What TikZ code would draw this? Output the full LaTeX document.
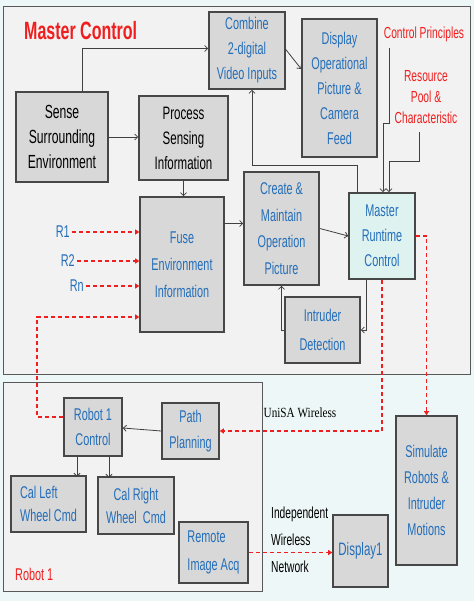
\documentclass[tikz,border=0pt]{standalone}
\usepackage{fontspec}
\setmainfont{Liberation Sans}[FakeStretch=0.64]
\newfontfamily\uniserif{Liberation Serif}[FakeStretch=0.8]
\usetikzlibrary{arrows.meta,calc}
\definecolor{bgcyan}{RGB}{238,247,247}
\definecolor{framefill}{RGB}{242,242,242}
\definecolor{boxgray}{RGB}{216,216,216}
\definecolor{runcyan}{RGB}{222,242,240}
\definecolor{myblue}{RGB}{36,110,185}
\definecolor{myred}{RGB}{240,30,30}
\tikzset{
  frame/.style={draw=black!65, line width=1pt, fill=framefill},
  box/.style={draw=black!72, line width=1.6pt, fill=boxgray, inner sep=0pt, align=center,
    text=myblue, font=\fontsize{17}{25}\selectfont},
  blackbox/.style={box, text=black, font=\fontsize{19}{25}\selectfont},
  sz/.style 2 args={minimum width=#1pt, minimum height=#2pt},
  conn/.style={draw=black!75, line width=0.8pt, -{Straight Barb[length=3pt,width=6pt]}},
  rdash/.style={draw=myred, line width=1.4pt, dash pattern=on 4pt off 3pt,
    -{Triangle[length=4pt,width=5pt]}},
  redlabel/.style={text=myred, align=center, inner sep=0pt, font=\fontsize{16}{21}\selectfont},
  bluelabel/.style={text=myblue, inner sep=0pt, font=\fontsize{17}{20}\selectfont},
}
\begin{document}
\begin{tikzpicture}[x=1pt,y=-1pt]
\useasboundingbox (0,0) rectangle (474,601);
\fill[bgcyan] (0,0) rectangle (474,601);
% frames
\draw[frame] (3,7) rectangle (470,374);
\draw[frame] (3,382) rectangle (262,591);

% titles
\node[anchor=west, text=myred, inner sep=0pt, font=\fontsize{25}{25}\selectfont\bfseries] (mtitle) at (24,31) {Master Control};
\node[anchor=west, text=myred, inner sep=0pt, font=\fontsize{17}{20}\selectfont] (rtitle) at (15,574) {Robot 1};

% master nodes
\node[blackbox, sz={92}{90}] (sense) at (62,137) {Sense\\Surrounding\\Environment};
\node[blackbox, sz={89}{84}, font=\fontsize{18}{25}\selectfont] (process) at (183.5,138) {Process\\Sensing\\Information};
\node[box, sz={76}{77}] (combine) at (247,50.5) {Combine\\2-digital\\Video Inputs};
\node[box, sz={75}{138}] (display) at (339.5,88) {Display\\Operational\\Picture \&\\Camera\\Feed};
\node[box, sz={84}{135}, font=\fontsize{17}{27}\selectfont] (fuse) at (182,264.5) {Fuse\\Environment\\Information};
\node[box, sz={75}{113}, font=\fontsize{17}{26.5}\selectfont] (create) at (281.5,228.5) {Create \&\\Maintain\\Operation\\Picture};
\node[box, sz={66}{86}, fill=runcyan] (master) at (382,236) {Master\\Runtime\\Control};
\node[box, sz={75}{66}, font=\fontsize{17}{29}\selectfont] (intruder) at (322.5,330) {Intruder\\Detection};

\node[redlabel] (cp) at (424,34) {Control Principles};
\node[redlabel] (rp) at (426,97) {Resource\\Pool \&\\Characteristic};

\node[bluelabel, anchor=east] (r1) at (70,232) {R1};
\node[bluelabel, anchor=east] (r2) at (75,261) {R2};
\node[bluelabel, anchor=east] (rn) at (84,286) {Rn};

% robot nodes
\node[box, sz={58}{58}] (robot) at (93,427) {Robot 1\\Control};
\node[box, sz={57}{56}, font=\fontsize{17}{26}\selectfont] (path) at (190.5,431) {Path\\Planning};
\node[box, sz={75}{56}, align=left, font=\fontsize{17}{23}\selectfont] (calleft) at (48.5,504) {Cal Left\\Wheel Cmd};
\node[box, sz={76}{57}, font=\fontsize{17}{23}\selectfont] (calright) at (136,505.5) {Cal Right\\Wheel\ \ Cmd};
\node[box, sz={69}{61}, align=left, font=\fontsize{17}{28}\selectfont] (remote) at (213.5,552.5) {Remote\\Image Acq};
\node[box, sz={55}{72}, font=\fontsize{18}{22}\selectfont] (disp1) at (360.5,551) {Display1};
\node[box, sz={61}{149}, font=\fontsize{17}{26}\selectfont] (sim) at (426.5,490.5) {Simulate\\Robots \&\\Intruder\\Motions};

\node[inner sep=0pt, font=\uniserif\fontsize{14}{16}\selectfont] (unisa) at (300,413) {UniSA Wireless};
\node[anchor=west, align=left, inner sep=0pt, font=\fontsize{16}{27}\selectfont] (indep) at (271,540) {Independent\\Wireless\\Network};

% helper coordinates
\coordinate (cpa) at (389,48);
\coordinate (cpb) at (383,123);
\coordinate (rpa) at (419,132);
\coordinate (rpb) at (389,161);
\coordinate (rj) at (37,317);

% black connectors
\draw[conn] ($(sense.north)+(20,0)$) |- ($(combine.west)+(0,-2)$);
\draw[conn] (sense.east) -- (sense.east -| process.west);
\draw[conn] (process.south) -- (process.south |- fuse.north);
\draw[conn] ($(fuse.east)+(0,-41)$) -- ($(create.west)+(0,-5)$);
\draw[conn] ($(combine.east)+(0,-1)$) -- ($(display.west)+(0,-19)$);
\draw[conn] (create.east) -- (master.west);
\draw[conn] ($(master.north)+(-25,0)$) -- ++(0,-27) -| ($(combine.south)+(5,0)$);
\draw[conn] (cpa) |- (cpb) -- (cpb |- master.north);
\draw[conn] (rpa) |- (rpb) -- (rpb |- master.north);
\draw[conn] ($(master.south)+(-16,0)$) |- (intruder.east);
\draw[conn] (intruder.west) -| (create.south);

\draw[conn] (path.west) -- ($(robot.east)+(0,1)$);
\draw[conn] ($(robot.south)+(-16,0)$) -- ($(robot.south)+(-16,20)$);
\draw[conn] ($(robot.south)+(16,0)$) -- ($(robot.south)+(16,21)$);

% red dashed connectors
\draw[rdash] ($(r1.east)+(2,0)$) -- (r1.east -| fuse.west);
\draw[rdash] ($(r2.east)+(2,0)$) -- (r2.east -| fuse.west);
\draw[rdash] ($(rn.east)+(2,0)$) -- (rn.east -| fuse.west);
\draw[rdash] ($(robot.west)+(0,-10)$) -| (rj) -- (rj -| fuse.west);
\draw[rdash] (master.east) -| (sim.north);
\draw[rdash] (master.south) |- (path.east);
\draw[rdash] (remote.east) -- (remote.east -| disp1.west);
\end{tikzpicture}
\end{document}
